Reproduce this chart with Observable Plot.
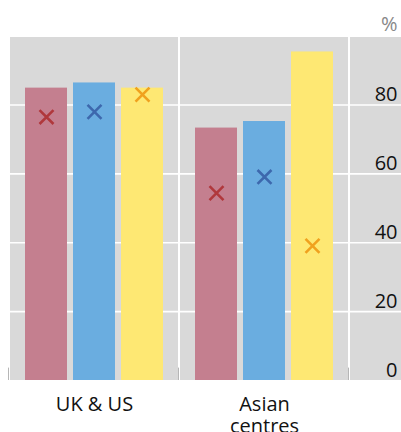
<!DOCTYPE html>
<html>
<head>
<meta charset="utf-8">
<script src="https://cdn.jsdelivr.net/npm/d3@7"></script>
<script src="https://cdn.jsdelivr.net/npm/@observablehq/plot@0.6"></script>
<style>
  html, body { margin: 0; padding: 0; background: white; overflow: hidden; }
  #wrap { width: 401px; height: 432px; overflow: hidden; position: relative; }
</style>
</head>
<body>
<div id="wrap"></div>
<script>
// ---- data ----
const groups = ["UK & US", "Asian centres"];
const groupLabels = ["UK & US", "Asian\ncentres"];
const series = ["Series 1", "Series 2", "Series 3"];
const barColors = ["#c47f8f", "#6aade0", "#fee873"];
const crossColors = ["#b0383c", "#3d68ad", "#f0a11e"];
const barValues = [[84.9, 86.4, 84.9], [73.3, 75.2, 95.4]];
const crossValues = [[76.5, 78.0, 83.0], [54.4, 59.1, 39.1]];
const yTicks = [0, 20, 40, 60, 80];
const yMax = 99.6;
const axisPanel = " ";

// ---- build table ----
const panels = [...groups, axisPanel];
const rows = [];
groups.forEach((g, gi) => series.forEach((s, si) => rows.push({
  group: g, series: s, value: barValues[gi][si], cross: crossValues[gi][si],
  fill: barColors[si], stroke: crossColors[si]
})));

const W = 520, ML = 8;
const bw = (W - ML) / panels.length;
const font = "'Open Sans', 'Noto Sans', sans-serif";

const chart = Plot.plot({
  width: W, height: 432,
  marginTop: 37, marginBottom: 52, marginLeft: ML, marginRight: 0,
  style: `max-width:none; background:white; font-family:${font}; overflow:visible;`,
  fx: {domain: panels, padding: 0, axis: null},
  x: {domain: series, paddingInner: 0.13, paddingOuter: 0.32, axis: null},
  y: {domain: [0, yMax], axis: null},
  color: {type: "identity"},
  marks: [
    Plot.barY(panels, {fx: d => d, y1: 0, y2: yMax, fill: "#d9d9d9", insetLeft: 1, insetRight: 1}),
    Plot.ruleY(yTicks.filter(d => d > 0), {y: d => d, stroke: "white", strokeWidth: 1.6}),
    Plot.barY(panels, {fx: d => d, y1: 0, y2: 3.6, fill: "#222", insetLeft: -0.5, insetRight: bw - 0.5}),
    Plot.barY(rows, {fx: "group", x: "series", y: "value", fill: "fill"}),
    Plot.dot(rows, {fx: "group", x: "series", y: "cross", symbol: "times", r: 6.4, stroke: "stroke", strokeWidth: 2.6}),
    Plot.text(yTicks, {fx: () => axisPanel, y: d => d, text: d => String(d), frameAnchor: "left", dx: 48, dy: -4,
      textAnchor: "end", lineAnchor: "bottom", fontSize: 20, fill: "#111"}),
    Plot.text(["%"], {fx: () => axisPanel, text: d => d, frameAnchor: "top-left", dx: 48, dy: -7,
      textAnchor: "end", lineAnchor: "bottom", fontSize: 20, fill: "#888"}),
    Plot.text(groups, {fx: d => d, text: (d, i) => groupLabels[i], frameAnchor: "bottom", dy: 14,
      lineAnchor: "top", lineHeight: 1.13, fontSize: 20, fill: "#111"})
  ]
});
document.getElementById("wrap").appendChild(chart);
</script>
</body>
</html>
